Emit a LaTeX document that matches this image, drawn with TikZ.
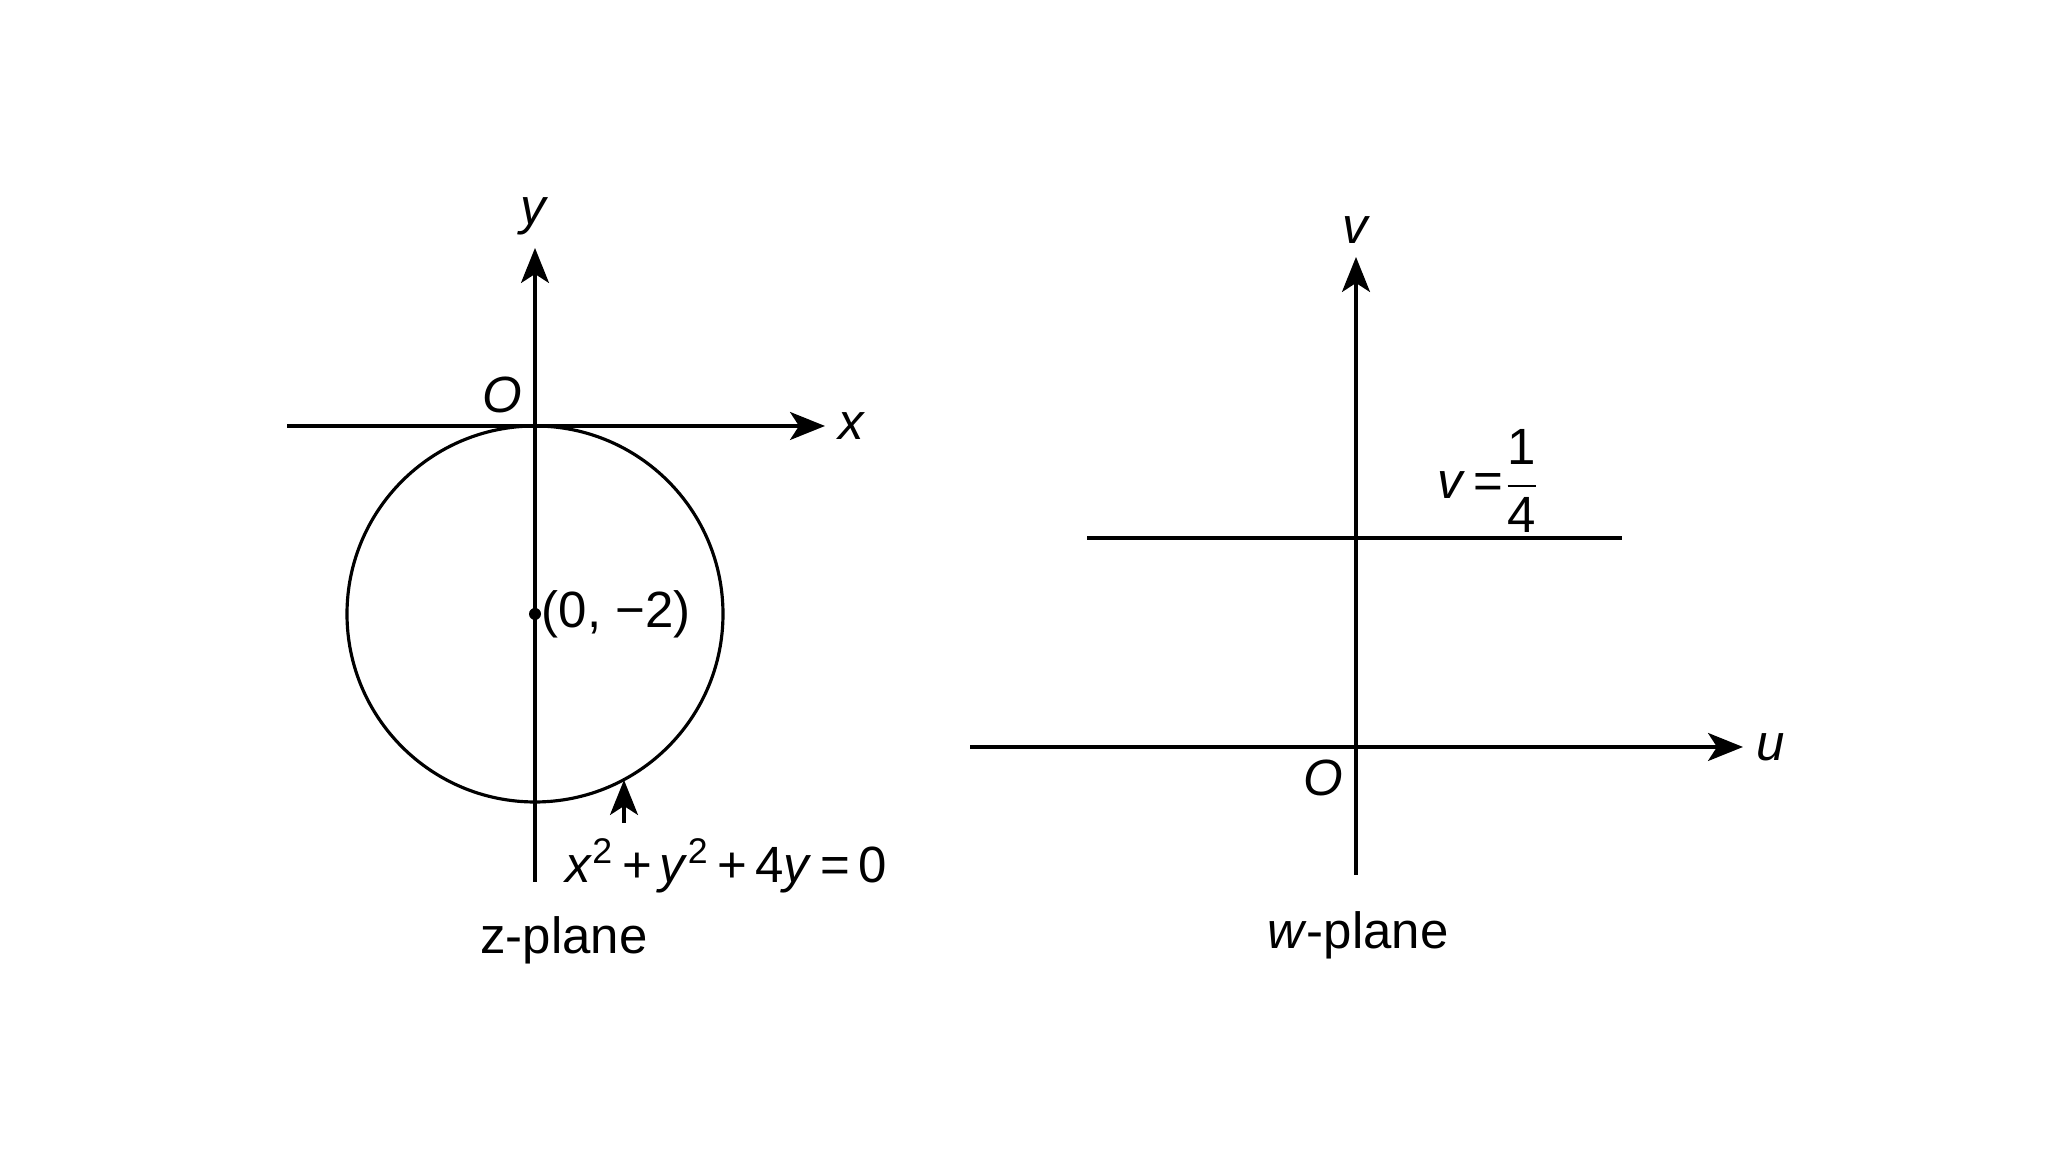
\documentclass[tikz,border=0pt]{standalone}
\usepackage{amsmath}
\usepackage{fontspec}
\setmainfont{Liberation Sans}
\usetikzlibrary{arrows.meta}

\newcommand{\tsp}{\hspace{0.16em}}

\begin{document}
\begin{tikzpicture}[>={Stealth[length=3.5mm,width=2.8mm,inset=0.9mm]}, line width=0.9pt,
    font=\fontsize{14.5}{17}\selectfont]
\useasboundingbox (0,0) rectangle (20.48,11.52);
% z-plane
\coordinate (zo) at (5.35,7.26);
\draw[->] (2.87,7.26)--(8.25,7.26) node[right] (xlab) {\textit{x}};
\draw[->] (5.35,2.70)--(5.35,9.04) node[above] (ylab) {\textit{y}};
\node[above left] (o1) at (zo) {\textit{O}};
\draw (5.35,5.38) circle (1.88);
\fill (5.35,5.38) circle (0.06) node[right, inner sep=1.5pt] (ctr) {(0, −2)};
\coordinate (tick) at (6.24,3.72);
\draw[->] (6.24,3.29)--(tick);
\node[anchor=west] (eq) at (5.52,2.86) {\textit{x}\textsuperscript{2}\tsp+\tsp\textit{y}\textsuperscript{2}\tsp+\tsp4\textit{y}\tsp=\tsp0};
\node (zlab) at (5.64,2.12) {z-plane};

% w-plane
\coordinate (wo) at (13.56,4.05);
\draw[->] (9.70,4.05)--(17.43,4.05) node[right] (ulab) {\textit{u}};
\draw[->] (13.56,2.77)--(13.56,8.95) node[above] (vlab) {\textit{v}};
\node[below left] (o2) at (wo) {\textit{O}};
\draw (10.87,6.14)--(16.22,6.14);
\node (line) at (14.89,6.71) {\textit{v}\tsp=$\dfrac{\text{1}}{\text{4}}$};
\node (wlab) at (13.58,2.17) {\textit{w}-plane};
\end{tikzpicture}
\end{document}
